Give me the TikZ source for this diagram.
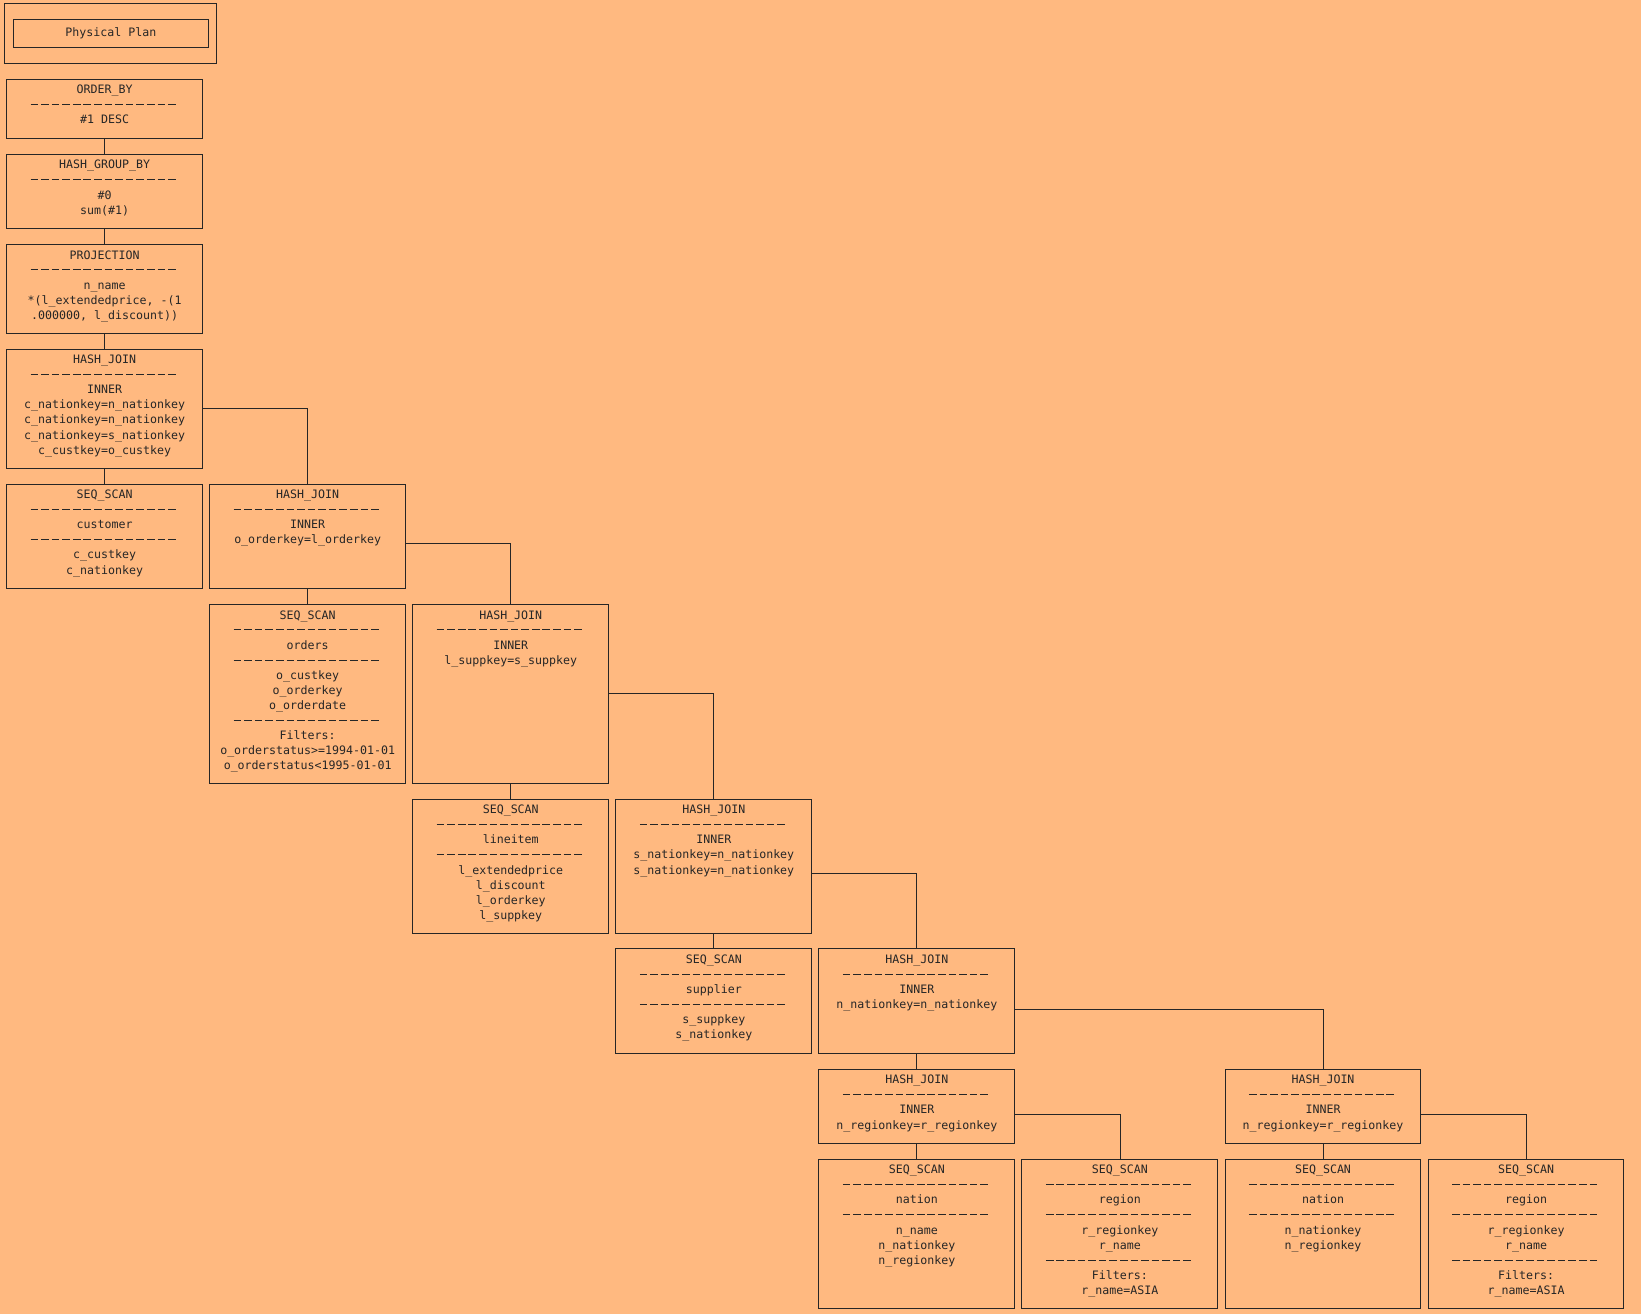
\documentclass[tikz,border=0pt]{standalone}
\usepackage{fontspec}
\newfontfamily\mono{DejaVu Sans Mono}
\usetikzlibrary{calc}
\newcommand\D{\hbox to 141.5pt{\xleaders\hbox{\rule[3.6pt]{7.3pt}{0.9pt}\hskip2.8pt}\hfill}}
\tikzset{
  pbox/.style={draw=black!85,line width=0.9pt,minimum width=187pt,anchor=north west,inner sep=0pt},
  ptxt/.style={font=\mono\fontsize{11.1}{14.4}\selectfont,align=center,anchor=north,inner sep=0pt,text=black!85},
  conn/.style={draw=black!85,line width=0.9pt}
}
\newcommand\pb[5]{%
  \node[pbox,minimum height=#4pt] (#1) at (#2,#3) {};
  \node[ptxt] (#1t) at ($(#1.north)+(0,6)$) {#5};}
\begin{document}
\begin{tikzpicture}[x=1pt,y=-1pt,scale=1.0466,every node/.append style={transform shape}]
\fill[fill={rgb,255:red,255;green,185;blue,128}] (0,0) rectangle (1568,1255.5);
\useasboundingbox (0,0) rectangle (1568,1255.5);
\node[pbox,minimum width=202pt,minimum height=57pt] (ob) at (4,3) {};
\node[pbox,minimum height=27pt,font=\mono\fontsize{11.1}{14.4}\selectfont,text=black!85] (ib) at (12,18) {Physical Plan};
\pb{n1}{6}{75}{57}{ORDER\_BY\\\D\\\#1 DESC}
\pb{n2}{6}{147}{71}{HASH\_GROUP\_BY\\\D\\\#0\\sum(\#1)}
\pb{n3}{6}{233}{85}{PROJECTION\\\D\\n\_name\\*(l\_extendedprice, -(1\\.000000, l\_discount))}
\pb{n4}{6}{333}{114}{HASH\_JOIN\\\D\\INNER\\c\_nationkey=n\_nationkey\\c\_nationkey=n\_nationkey\\c\_nationkey=s\_nationkey\\c\_custkey=o\_custkey}
\pb{c5}{6}{462}{100}{SEQ\_SCAN\\\D\\customer\\\D\\c\_custkey\\c\_nationkey}
\pb{h5}{200}{462}{100}{HASH\_JOIN\\\D\\INNER\\o\_orderkey=l\_orderkey}
\pb{c6}{200}{577}{171}{SEQ\_SCAN\\\D\\orders\\\D\\o\_custkey\\o\_orderkey\\o\_orderdate\\\D\\Filters:\\o\_orderstatus>=1994-01-01\\o\_orderstatus<1995-01-01}
\pb{h6}{394}{577}{171}{HASH\_JOIN\\\D\\INNER\\l\_suppkey=s\_suppkey}
\pb{c7}{394}{763}{128}{SEQ\_SCAN\\\D\\lineitem\\\D\\l\_extendedprice\\l\_discount\\l\_orderkey\\l\_suppkey}
\pb{h7}{588}{763}{128}{HASH\_JOIN\\\D\\INNER\\s\_nationkey=n\_nationkey\\s\_nationkey=n\_nationkey}
\pb{c8}{588}{906}{100}{SEQ\_SCAN\\\D\\supplier\\\D\\s\_suppkey\\s\_nationkey}
\pb{h8}{782}{906}{100}{HASH\_JOIN\\\D\\INNER\\n\_nationkey=n\_nationkey}
\pb{ha}{782}{1021}{71}{HASH\_JOIN\\\D\\INNER\\n\_regionkey=r\_regionkey}
\pb{hb}{1170}{1021}{71}{HASH\_JOIN\\\D\\INNER\\n\_regionkey=r\_regionkey}
\pb{sa}{782}{1107}{143}{SEQ\_SCAN\\\D\\nation\\\D\\n\_name\\n\_nationkey\\n\_regionkey}
\pb{sb}{976}{1107}{143}{SEQ\_SCAN\\\D\\region\\\D\\r\_regionkey\\r\_name\\\D\\Filters:\\r\_name=ASIA}
\pb{sc}{1170}{1107}{143}{SEQ\_SCAN\\\D\\nation\\\D\\n\_nationkey\\n\_regionkey}
\pb{sd}{1364}{1107}{143}{SEQ\_SCAN\\\D\\region\\\D\\r\_regionkey\\r\_name\\\D\\Filters:\\r\_name=ASIA}
\draw[conn] (n1.south)--(n2.north);
\draw[conn] (n2.south)--(n3.north);
\draw[conn] (n3.south)--(n4.north);
\draw[conn] (n4.south)--(c5.north);
\draw[conn] (n4.east) -| (h5.north);
\draw[conn] (h5.south)--(c6.north);
\draw[conn] ($(h5.east)+(0,7)$) -| (h6.north);
\draw[conn] (h6.south)--(c7.north);
\draw[conn] (h6.east) -| (h7.north);
\draw[conn] (h7.south)--(c8.north);
\draw[conn] ($(h7.east)+(0,7)$) -| (h8.north);
\draw[conn] (h8.south)--(ha.north);
\draw[conn] ($(h8.east)+(0,8)$) -| (hb.north);
\draw[conn] (ha.south)--(sa.north);
\draw[conn] ($(ha.east)+(0,8)$) -| (sb.north);
\draw[conn] (hb.south)--(sc.north);
\draw[conn] ($(hb.east)+(0,8)$) -| (sd.north);
\end{tikzpicture}
\end{document}
